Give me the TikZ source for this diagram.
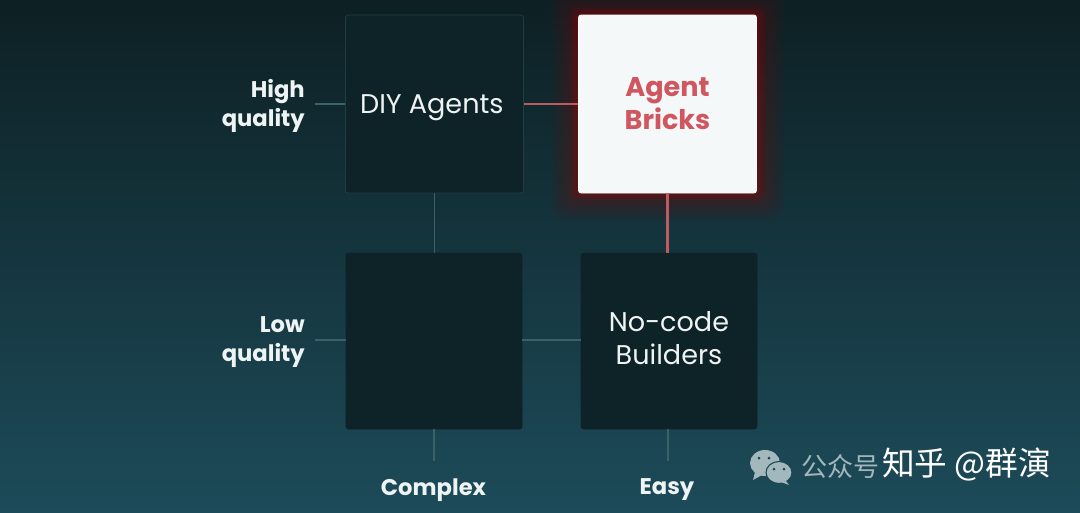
\documentclass[tikz,border=0pt]{standalone}
\usepackage{fontspec}
\setmainfont{Poppins}
\newfontfamily\cjk{Noto Sans CJK SC}
\usetikzlibrary{calc}
\definecolor{bgtop}{HTML}{0D2024}
\definecolor{bgbot}{HTML}{1D4B59}
\definecolor{boxfill}{HTML}{0E2327}
\definecolor{boxedge}{HTML}{1E3D42}
\definecolor{linkgrey}{HTML}{3A6165}
\definecolor{linkred}{HTML}{BE5A62}
\definecolor{brick}{HTML}{D0575F}
\definecolor{labelwhite}{HTML}{EEF3F3}
\definecolor{bubble}{HTML}{A3B8BD}
\definecolor{markbg}{HTML}{1B4652}
\tikzset{
  x=0.75pt, y=-0.75pt,
  cell/.style={draw=boxedge, fill=boxfill, rounded corners=2pt, minimum width=133.5pt, minimum height=133.5pt, inner sep=0pt, line width=0.6pt, align=center, text=labelwhite, font=\fontsize{20.3}{24.75}\selectfont},
  lowcell/.style={cell, draw=boxfill, minimum width=132pt, minimum height=132pt},
  axislabel/.style={text=labelwhite, font=\fontsize{17}{21.5}\selectfont\bfseries, align=right, inner sep=0pt},
  link/.style={linkgrey, line width=1.4pt},
  hotlink/.style={linkred, line width=2pt}
}
\begin{document}
\begin{tikzpicture}
  \shade[top color=bgtop, bottom color=bgbot] (0, 0) rectangle (1080, 512);
  \useasboundingbox (0, 0) rectangle (1080, 512);
  % glow
  \foreach \r in {1, 3, ..., 27}
    \fill[red!70!black, opacity=0.025, rounded corners=10pt] ($(578, 15) + (-\r, -\r)$) rectangle ($(757, 193) + (\r, \r)$);
  \foreach \r in {1, 2, ..., 8}
    \fill[red!75!black, opacity=0.035, rounded corners=5pt] ($(578, 15) + (-\r, -\r)$) rectangle ($(757, 193) + (\r, \r)$);
  \node[cell] (diy) at (434.5, 104) {\hspace*{-4pt}\raisebox{-7pt}[8pt][8pt]{DIY Agents}};
  \node[cell, fill=labelwhite!60!white, draw=white, text=brick, font=\fontsize{20.3}{24.75}\selectfont\bfseries] (brk) at (667.5, 104) {Agent\\Bricks};
  \node[lowcell] (empty) at (434, 341) {};
  \node[lowcell] (nocode) at (669, 341) {\raisebox{1pt}{\begin{tabular}{@{}c@{}}No-code\\[0pt]Builders\end{tabular}}};
  \node[axislabel, anchor=east] (high) at (305, 106) {High\\quality};
  \node[axislabel, anchor=east] (low) at (305, 342) {Low\\quality};
  \node[axislabel] (complex) at (433.5, 490) {Complex};
  \node[axislabel] (easy) at (667, 490) {Easy};
  \coordinate (highend) at (315, 104);
  \coordinate (lowend) at (315, 340);
  \coordinate (complexend) at (434, 461);
  \coordinate (easyend) at (668, 461);
  \draw[link] (highend) -- (highend -| diy.west);
  \draw[link] (lowend) -- (lowend -| empty.west);
  \draw[link] (diy) -- (diy |- empty.north);
  \draw[link] (empty.east) ++(0, -1) -- (nocode.west |- lowend);
  \draw[link] (complexend |- empty.south) -- (complexend);
  \draw[link] (easyend |- nocode.south) -- (easyend);
  \draw[hotlink] (diy.east) -- (brk.west);
  \draw[hotlink] (brk.south) -- (brk.south |- nocode.north);
  % watermark
  \fill[bubble] (765, 463) ellipse (15 and 13);
  \fill[bubble] (755, 472) -- (753, 480) -- (762, 475) -- cycle;
  \fill[bubble, draw=markbg, line width=0.8pt] (779, 472.5) ellipse (13 and 11);
  \fill[bubble] (786, 481) -- (789, 485) -- (781, 482) -- cycle;
  \foreach \px/\py in {759/458, 769/458, 774/469, 784/469}
    \fill[markbg] (\px, \py) circle (1.5);
  \node[text=bubble, font=\cjk\fontsize{19.5}{22}\selectfont, inner sep=0pt] (mark) at (840, 467) {公众号};
  \node[text=white, font=\cjk\fontsize{24.5}{26}\selectfont, inner sep=0pt] (zhihu) at (966.5, 465) {知乎 @群演};
\end{tikzpicture}
\end{document}
